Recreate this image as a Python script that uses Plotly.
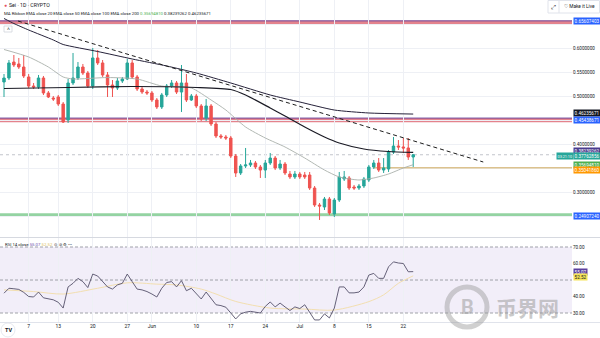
import plotly.graph_objects as go
import pandas as pd

# ---------------- data ----------------
dates = pd.date_range("2024-05-02", periods=84, freq="D")

opens = [0.5292, 0.5375, 0.5708, 0.5667, 0.5604, 0.5396, 0.5208, 0.5188, 0.5375, 0.5063,
         0.4958, 0.4979, 0.4833, 0.4500, 0.5271, 0.5375, 0.5604, 0.5479, 0.5208, 0.5792,
         0.5688, 0.5438, 0.5229, 0.5167, 0.5313, 0.5354, 0.5688, 0.5396, 0.5146, 0.5083,
         0.5063, 0.4917, 0.4771, 0.5021, 0.5208, 0.5271, 0.5083, 0.5271, 0.4917, 0.5000,
         0.4792, 0.4542, 0.4792, 0.4417, 0.4167, 0.4146, 0.4125, 0.3750, 0.3396, 0.3542,
         0.3563, 0.3604, 0.3521, 0.3458, 0.3604, 0.3708, 0.3500, 0.3583, 0.3375, 0.3313,
         0.3375, 0.3354, 0.3354, 0.3083, 0.2729, 0.2688, 0.2854, 0.2542, 0.2833, 0.3271,
         0.3292, 0.3104, 0.3083, 0.3125, 0.3250, 0.3521, 0.3604, 0.3458, 0.3479, 0.3833,
         0.3958, 0.3938, 0.3917, 0.3729]
highs = [0.5458, 0.5750, 0.5854, 0.5792, 0.5854, 0.5458, 0.5271, 0.5438, 0.5417, 0.5104,
         0.5000, 0.5021, 0.4875, 0.5354, 0.5896, 0.5708, 0.5667, 0.5521, 0.6000, 0.5958,
         0.5750, 0.5500, 0.5333, 0.5375, 0.5396, 0.5771, 0.5750, 0.5438, 0.5208, 0.5125,
         0.5104, 0.4958, 0.5063, 0.5250, 0.5333, 0.5313, 0.5646, 0.5458, 0.5042, 0.5042,
         0.4833, 0.4938, 0.4833, 0.4458, 0.4208, 0.4188, 0.4167, 0.3792, 0.3583, 0.3917,
         0.3667, 0.3646, 0.3563, 0.3667, 0.3813, 0.3750, 0.3667, 0.3625, 0.3438, 0.3438,
         0.3417, 0.3417, 0.3417, 0.3125, 0.2771, 0.2896, 0.2896, 0.2875, 0.3417, 0.3438,
         0.3333, 0.3146, 0.3167, 0.3313, 0.3563, 0.3667, 0.3708, 0.3708, 0.3875, 0.4146,
         0.4083, 0.4125, 0.4125, 0.3792]
lows = [0.4979, 0.5333, 0.5604, 0.5563, 0.5375, 0.5167, 0.5146, 0.5146, 0.5021, 0.4958,
        0.4896, 0.4792, 0.4438, 0.4438, 0.5229, 0.5333, 0.5438, 0.5167, 0.5146, 0.5646,
        0.5396, 0.4979, 0.4979, 0.5125, 0.5271, 0.5333, 0.5354, 0.5104, 0.5042, 0.5021,
        0.4875, 0.4729, 0.4729, 0.4979, 0.5167, 0.5042, 0.4667, 0.4875, 0.4896, 0.4750,
        0.4479, 0.4479, 0.4375, 0.4125, 0.4104, 0.4083, 0.3708, 0.3313, 0.3354, 0.3500,
        0.3521, 0.3479, 0.3292, 0.3292, 0.3563, 0.3458, 0.3458, 0.3354, 0.3271, 0.3271,
        0.3271, 0.3271, 0.3042, 0.2688, 0.2417, 0.2625, 0.2521, 0.2479, 0.2792, 0.3229,
        0.3042, 0.3042, 0.3042, 0.3083, 0.3208, 0.3479, 0.3417, 0.3396, 0.3417, 0.3792,
        0.3875, 0.3813, 0.3667, 0.3521]
closes = [0.5375, 0.5688, 0.5646, 0.5604, 0.5417, 0.5208, 0.5188, 0.5375, 0.5063, 0.4979,
          0.4938, 0.4833, 0.4458, 0.5271, 0.5375, 0.5604, 0.5479, 0.5208, 0.5792, 0.5688,
          0.5438, 0.5229, 0.5167, 0.5313, 0.5354, 0.5688, 0.5396, 0.5146, 0.5083, 0.5063,
          0.4917, 0.4771, 0.5021, 0.5208, 0.5271, 0.5083, 0.5271, 0.4917, 0.5000, 0.4792,
          0.4521, 0.4792, 0.4417, 0.4167, 0.4146, 0.4125, 0.3750, 0.3396, 0.3542, 0.3563,
          0.3604, 0.3521, 0.3458, 0.3604, 0.3708, 0.3500, 0.3583, 0.3396, 0.3313, 0.3375,
          0.3313, 0.3313, 0.3083, 0.2729, 0.2708, 0.2854, 0.2563, 0.2833, 0.3313, 0.3313,
          0.3083, 0.3083, 0.3125, 0.3271, 0.3521, 0.3604, 0.3458, 0.3500, 0.3833, 0.3958,
          0.3938, 0.3917, 0.3729, 0.3776]

rsi = [42.0, 45.0, 44.7, 44.3, 42.5, 40.0, 39.7, 42.7, 39.2, 38.5,
       38.0, 36.5, 33.0, 45.8, 48.0, 51.0, 49.0, 45.4, 53.6, 52.4,
       49.0, 45.8, 44.5, 47.0, 48.0, 53.6, 49.0, 44.5, 44.0, 43.0,
       41.5, 39.7, 45.0, 48.5, 49.0, 45.8, 49.6, 43.5, 45.0, 42.0,
       38.5, 42.7, 38.5, 35.0, 34.5, 33.5, 30.0, 26.4, 29.5, 30.5,
       31.0, 30.6, 30.0, 34.0, 36.7, 33.7, 36.0, 33.7, 31.5, 33.7,
       32.7, 35.0, 30.6, 25.8, 25.8, 29.5, 27.0, 33.0, 45.8, 45.8,
       42.2, 42.2, 42.7, 45.8, 53.0, 54.0, 51.0, 51.0, 58.0, 61.0,
       60.3, 60.0, 55.0, 55.07]

# RSI moving average, read at a few candles (1-based candle number)
rsi_ma_idx = [1, 7, 13, 20, 26, 32, 36, 41, 44, 48, 55, 62, 68, 75, 78, 81, 84]
rsi_ma_val = [44.0, 43.0, 41.5, 45.0, 48.3, 47.5, 47.0, 44.5, 41.5, 37.0, 33.0, 32.4,
              31.8, 36.9, 41.0, 48.0, 52.52]

# EMA lines, read at a few candles
ema20_idx = [1, 6, 10, 13, 15, 22, 28, 33, 39, 43, 46, 50, 54, 58, 62, 66, 69, 73, 76, 79, 82, 84]
ema20_val = [0.5969, 0.5813, 0.5604, 0.5396, 0.5354, 0.5385, 0.5354, 0.5208, 0.5167, 0.4917,
             0.4708, 0.4354, 0.4125, 0.3938, 0.3708, 0.3458, 0.3313, 0.3250, 0.3292, 0.3375,
             0.3500, 0.3569]
ema50_idx = [1, 14, 27, 40, 47, 50, 55, 58, 62, 66, 69, 74, 79, 84]
ema50_val = [0.5156, 0.5177, 0.5198, 0.5177, 0.5135, 0.5021, 0.4750, 0.4583, 0.4354, 0.4146,
             0.4021, 0.3896, 0.3844, 0.3824]
ema200_idx = [1, 3, 6, 11, 13, 20, 27, 34, 40, 47, 55, 61, 68, 75, 84]
ema200_val = [0.6615, 0.6510, 0.6375, 0.6167, 0.6073, 0.5927, 0.5771, 0.5625, 0.5479, 0.5271,
              0.5021, 0.4875, 0.4708, 0.4646, 0.4624]

# drawn objects
trend_dates = ["2024-05-04 20:00", "2024-08-07 05:00"]
trend_prices = [0.65625, 0.3625]
top_level, top_band = 0.6565, (0.6490, 0.6573)
mid_level, mid_band = 0.4540, (0.4452, 0.4540)
sup_level, sup_band = 0.2490, (0.2490, 0.2558)
tan_level, tan_start = 0.3504, "2024-07-16"
last_price = 0.3776

tick_dates = ["2024-05-07", "2024-05-13", "2024-05-20", "2024-05-27", "2024-06-01",
              "2024-06-10", "2024-06-17", "2024-06-24", "2024-07-01", "2024-07-08",
              "2024-07-15", "2024-07-22"]
tick_text = ["7", "13", "20", "27", "Jun", "10", "17", "24", "Jul", "8", "15", "22"]
price_ticks = [0.25, 0.30, 0.35, 0.40, 0.45, 0.50, 0.55, 0.60, 0.65]
price_tick_text = ["", "0.3000000", "", "0.4000000", "", "0.5000000", "0.5500000", "0.6000000", ""]
rsi_ticks = [30, 40, 60, 70]
rsi_tick_text = ["30.00", "40.00", "60.00", "70.00"]

# ---------------- figure ----------------
W, H = 600, 338
ML, MR, MT, MB = 0, 28, 0, 16
PW, PH = W - ML - MR, H - MT - MB
FONT = "Roboto, Liberation Sans, sans-serif"
TXT = "#131722"


def px(x):
    return x / PW


def py(y):
    return (PH - y) / PH


fig = go.Figure()

fig.add_trace(go.Candlestick(
    x=dates, open=opens, high=highs, low=lows, close=closes,
    increasing=dict(line=dict(color="#26a69a", width=1), fillcolor="#26a69a"),
    decreasing=dict(line=dict(color="#ef5350", width=1), fillcolor="#ef5350"),
    whiskerwidth=0, showlegend=False, hoverinfo="skip", xaxis="x", yaxis="y"))

def pick(idx):
    return [dates[i - 1] for i in idx]

fig.add_trace(go.Scatter(x=pick(ema20_idx), y=ema20_val, mode="lines",
                         line=dict(color="#a9b0aa", width=0.9, shape="spline", smoothing=0.6),
                         showlegend=False, hoverinfo="skip", xaxis="x", yaxis="y"))
fig.add_trace(go.Scatter(x=pick(ema50_idx), y=ema50_val, mode="lines",
                         line=dict(color="#1a1a24", width=1.2, shape="spline", smoothing=0.6),
                         showlegend=False, hoverinfo="skip", xaxis="x", yaxis="y"))
fig.add_trace(go.Scatter(x=pick(ema200_idx), y=ema200_val, mode="lines",
                         line=dict(color="#26223a", width=1.0, shape="spline", smoothing=0.6),
                         showlegend=False, hoverinfo="skip", xaxis="x", yaxis="y"))
fig.add_trace(go.Scatter(x=trend_dates, y=trend_prices, mode="lines",
                         line=dict(color="#1e1e1e", width=1.0, dash="4px,3px"),
                         showlegend=False, hoverinfo="skip", xaxis="x", yaxis="y"))

# RSI pane
fig.add_trace(go.Scatter(x=pick(rsi_ma_idx), y=rsi_ma_val, mode="lines",
                         line=dict(color="#f3dfb0", width=1.0, shape="spline", smoothing=0.8),
                         showlegend=False, hoverinfo="skip", xaxis="x", yaxis="y2"))
fig.add_trace(go.Scatter(x=dates, y=rsi, mode="lines",
                         line=dict(color="#55506a", width=0.9),
                         showlegend=False, hoverinfo="skip", xaxis="x", yaxis="y2"))

shapes = []
# bands and levels
shapes.append(dict(type="rect", xref="paper", x0=0, x1=1, yref="y", y0=top_band[0], y1=top_band[1],
                   fillcolor="#e4838d", line=dict(width=0), layer="between"))
shapes.append(dict(type="line", xref="paper", x0=0, x1=1, yref="y", y0=top_level, y1=top_level,
                   line=dict(color="#6e4a9e", width=1), layer="between"))
shapes.append(dict(type="rect", xref="paper", x0=0, x1=1, yref="y", y0=mid_band[0], y1=mid_band[1],
                   fillcolor="#e4838d", line=dict(width=0), layer="between"))
shapes.append(dict(type="line", xref="paper", x0=0, x1=1, yref="y", y0=mid_level, y1=mid_level,
                   line=dict(color="#6e4a9e", width=1), layer="between"))
shapes.append(dict(type="rect", xref="paper", x0=0, x1=1, yref="y", y0=sup_band[0], y1=sup_band[1],
                   fillcolor="#94d3a2", line=dict(width=0), layer="between"))
shapes.append(dict(type="line", xref="paper", x0=0, x1=1, yref="y", y0=sup_level, y1=sup_level,
                   line=dict(color="#1e6b34", width=1.2), layer="between"))
shapes.append(dict(type="line", xref="x", x0=tan_start, x1="2024-08-25 05:00", yref="y",
                   y0=tan_level, y1=tan_level, line=dict(color="#dcc28e", width=1.6), layer="between"))
shapes.append(dict(type="line", xref="paper", x0=0, x1=1, yref="y", y0=last_price, y1=last_price,
                   line=dict(color="#b2b5be", width=0.8, dash="dot"), layer="between"))
# RSI band & lines
shapes.append(dict(type="rect", xref="paper", x0=0, x1=1, yref="y2", y0=30, y1=70,
                   fillcolor="rgba(126,87,194,0.10)", line=dict(width=0), layer="between"))
for lv in (70, 50, 30):
    shapes.append(dict(type="line", xref="paper", x0=0, x1=1, yref="y2", y0=lv, y1=lv,
                       line=dict(color="#8a8d96", width=0.8, dash="3px,2px"), layer="between"))
# pane separator, bottom line
shapes.append(dict(type="line", xref="paper", x0=0, x1=W / PW, yref="paper", y0=py(237.5), y1=py(237.5),
                   line=dict(color="#d6d9e0", width=1)))
shapes.append(dict(type="line", xref="paper", x0=0, x1=W / PW, yref="paper", y0=py(322.5), y1=py(322.5),
                   line=dict(color="#e0e3eb", width=1)))
# top-right button
shapes.append(dict(type="rect", xref="paper", x0=px(548), x1=px(599.5), yref="paper", y0=py(13), y1=py(0.5),
                   fillcolor="white", line=dict(color="#e0e3eb", width=1)))
shapes.append(dict(type="line", xref="paper", x0=px(559), x1=px(559), yref="paper", y0=py(13), y1=py(0.5),
                   line=dict(color="#e0e3eb", width=1)))
# small collapse button
shapes.append(dict(type="rect", xref="paper", x0=px(4), x1=px(12), yref="paper", y0=py(32), y1=py(26),
                   fillcolor="white", line=dict(color="#d1d4dc", width=0.8)))
# watermark ring
shapes.append(dict(type="circle", xref="paper", yref="paper", x0=px(447), x1=px(487), y0=py(327), y1=py(287),
                   line=dict(color="rgba(150,150,150,0.45)", width=5)))
# TV logo
shapes.append(dict(type="circle", xref="paper", yref="paper", x0=px(1), x1=px(15), y0=py(337), y1=py(323),
                   fillcolor="white", line=dict(color="#e0e3eb", width=0.8)))

ann = []


def ptext(x, y, text, size=5, color=TXT, anchor="left", family=FONT, **kw):
    ann.append(dict(xref="paper", yref="paper", x=px(x), y=py(y), text=text, showarrow=False,
                    xanchor=anchor, yanchor="middle", font=dict(size=size, color=color, family=family), **kw))


def plabel(val, text, bg, yref="y", yshift=0, fg="white"):
    ann.append(dict(xref="paper", x=1, xanchor="left", xshift=1, yref=yref, y=val, yanchor="middle",
                    yshift=yshift, text=text, showarrow=False, bgcolor=bg, borderpad=0.6,
                    font=dict(size=4.6, color=fg, family=FONT)))


ptext(1.5, 5, "●", size=5, color="#e5505e")
ptext(7, 5, "Sei · 1D · CRYPTO", size=5.2)
ptext(2, 13, "MA Ribbon EMA close 20 EMA close 50 EMA close 100 EMA close 200 "
             "<span style='color:#4caf50'>0.35694810</span> "
             "<span style='color:#131722'>0.38239262</span> "
             "<span style='color:#131722'>0.46235671</span>", size=4.3)
ptext(8, 29, "˄", size=5, anchor="center")
ptext(3, 244, "RSI 14 close <span style='color:#6a4fb0'>55.07</span> "
              "<span style='color:#e0c060'>52.52</span>  ⊙ ⊘ ⚙ ⋯", size=4.3)
ptext(553.5, 7, "⤢", size=6, anchor="center")
ptext(562, 7, "♡ Make it Live", size=4.8)
ptext(8, 330, "<b>TV</b>", size=5.5, anchor="center")
ptext(467, 307, "<b>B</b>", size=20, color="rgba(150,150,150,0.5)", anchor="center")
ptext(527, 307, "<b>币界网</b>", size=21, color="rgba(150,150,150,0.5)", anchor="center",
      family="Noto Sans CJK SC")
ptext(565, 156, "03:21:10", size=3.8, color="white", anchor="center", bgcolor="#26a69a", borderpad=0.5)

# right-hand value labels
plabel(top_level, "0.65607403", "#2962ff")
plabel(ema200_val[-1], "0.46235671", "#131722", yshift=1)
plabel(mid_level, "0.45438671", "#2962ff", yshift=-1.5)
plabel(ema50_val[-1], "0.38239262", "#4b3c8e", yshift=1)
plabel(last_price, "0.37762856", "#26a69a", yshift=-1)
plabel(ema20_val[-1], "0.35694810", "#4caf50", yshift=-0.5)
plabel(tan_level, "0.35041860", "#ff9800", yshift=-2)
plabel(sup_level, "0.24907240", "#2962ff")
plabel(rsi[-1], "55.07", "#5b3f9e", yref="y2")
plabel(rsi_ma_val[-1], "52.52", "#f6e35a", yref="y2", yshift=-1.5, fg=TXT)

fig.update_layout(
    width=W, height=H, margin=dict(l=ML, r=MR, t=MT, b=MB),
    paper_bgcolor="white", plot_bgcolor="white", showlegend=False,
    shapes=shapes, annotations=ann,
    xaxis=dict(type="date", range=["2024-05-01 04:30", "2024-08-25 05:00"], anchor="y2",
               tickvals=tick_dates, ticktext=tick_text, tickfont=dict(size=5, color=TXT, family=FONT),
               showgrid=True, gridcolor="#eef0f5", gridwidth=1, zeroline=False, showline=False,
               ticks="", rangeslider=dict(visible=False), fixedrange=True),
    yaxis=dict(domain=[(PH - 237) / PH, 1], range=[0.20625, 0.7], side="right", anchor="x",
               tickvals=price_ticks, ticktext=price_tick_text,
               tickfont=dict(size=4.6, color=TXT, family=FONT), showgrid=True, gridcolor="#eef0f5",
               zeroline=False, showline=False, ticks=""),
    yaxis2=dict(domain=[0, (PH - 238) / PH], range=[24.55, 75.45], side="right", anchor="x",
                tickvals=rsi_ticks, ticktext=rsi_tick_text,
                tickfont=dict(size=4.6, color=TXT, family=FONT), showgrid=False,
                zeroline=False, showline=False, ticks=""),
)

fig.write_html("out.html")
